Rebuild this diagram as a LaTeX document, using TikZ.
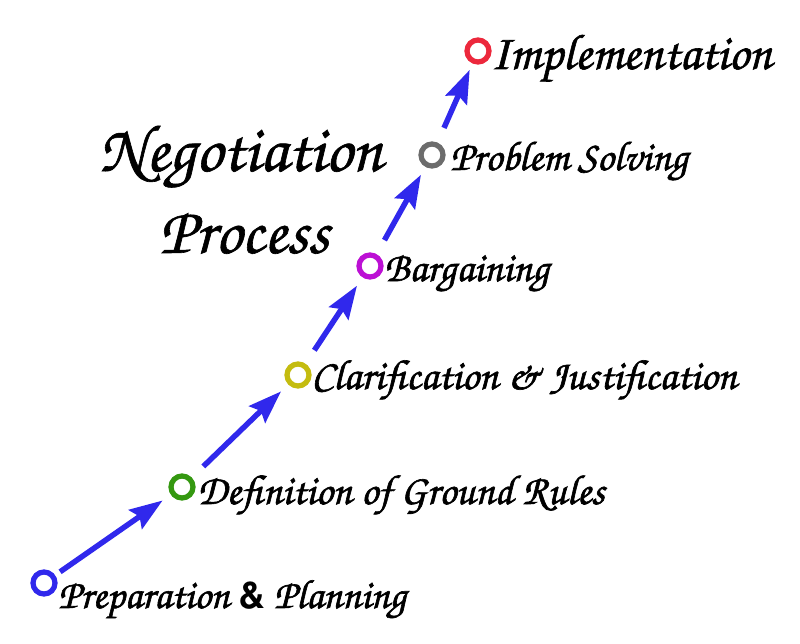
\documentclass[tikz,border=0pt]{standalone}
\usepackage[T1]{fontenc}
\usetikzlibrary{arrows.meta}

\newcommand{\heavytext}[1]{\special{pdf:code 2 Tr 0.35 w}#1\special{pdf:code 0 Tr 1 w}}

\tikzset{
    stage/.style={circle, draw=#1, line width=0.105cm, minimum size=0.44cm, inner sep=0pt},
    step label/.style={anchor=base west, inner sep=0pt, font=\usefont{T1}{pzc}{mb}{it}\fontsize{#1}{#1}\selectfont},
    advance/.style={-{Stealth[length=0.66cm, width=0.46cm, inset=0.1cm]}, draw={rgb,255:red,48;green,40;blue,236}, line width=0.11cm, shorten >=0.2cm, shorten <=0.32cm},
}
\definecolor{prepblue}{RGB}{48,40,236}
\definecolor{defgreen}{RGB}{52,152,16}
\definecolor{clarolive}{RGB}{196,188,16}
\definecolor{bargpurple}{RGB}{188,16,212}
\definecolor{probgrey}{RGB}{108,108,108}
\definecolor{implred}{RGB}{236,40,60}

\begin{document}
\begin{tikzpicture}[x=0.02cm, y=-0.02cm]
    \useasboundingbox (0, 0) rectangle (800, 643);

    \node [stage=prepblue] (prep) at (44, 583) {};
    \node [stage=defgreen] (defn) at (182, 487) {};
    \node [stage=clarolive] (clar) at (298, 375) {};
    \node [stage=bargpurple] (barg) at (370, 266) {};
    \node [stage=probgrey] (prob) at (432, 155) {};
    \node [stage=implred] (impl) at (478, 51) {};

    \draw [advance, shorten <=0.12cm] (prep) -- (defn);
    \draw [advance] (defn) -- (clar);
    \draw [advance] (clar) -- (barg);
    \draw [advance, shorten >=0.18cm] (barg) -- (prob);
    \draw [advance, shorten >=0.14cm] (prob) -- (impl);

    \node [step label=23.3] (preptext) at (58, 608) {\heavytext{Preparation} {\usefont{T1}{phv}{b}{n}\fontsize{21}{21}\selectfont\&} \heavytext{Planning}};
    \node [step label=23.9] (defntext) at (197, 504) {\heavytext{Definition of Ground Rules}};
    \node [step label=24] (clartext) at (311, 389) {\heavytext{Clarification \& Justification}};
    \node [step label=23.7] (bargtext) at (384, 281) {\heavytext{Bargaining}};
    \node [step label=23.7] (probtext) at (450, 170) {\heavytext{Problem Solving}};
    \node [step label=28.6] (impltext) at (490, 69) {\heavytext{Implementation}};

    \node [step label=38] (title) at (99, 171) {\heavytext{Negotiation}};
    \node [step label=37.7] (subtitle) at (159, 253) {\heavytext{Process}};
\end{tikzpicture}
\end{document}
